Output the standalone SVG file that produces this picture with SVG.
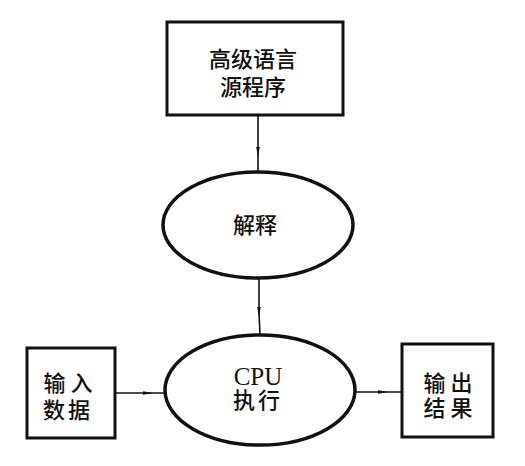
<svg xmlns="http://www.w3.org/2000/svg" width="525" height="466" viewBox="0 0 525 466">
<style>
.box{fill:#fff;stroke:#111;stroke-width:3}
.ell{fill:#fff;stroke:#111;stroke-width:3.5}
.t{font-family:"Noto Sans CJK SC","Noto Sans",sans-serif;font-size:22px;font-weight:500;fill:#111;text-anchor:middle}
.s{font-family:"Liberation Serif",serif;font-size:25px;fill:#111;text-anchor:middle}
.c{fill:none;stroke:#111;stroke-width:1.6;marker-mid:url(#ah)}
</style>
<defs>
<marker id="ah" markerWidth="10" markerHeight="6" refX="5" refY="3" orient="auto" markerUnits="userSpaceOnUse">
<path d="M0,1.2 L10,3 L0,4.8 Z" fill="#111"/>
</marker>
</defs>
<rect width="525" height="466" fill="#fff"/>
<g id="connectors">
<path class="c" d="M258,115 L258,152 L258,172"/>
<path class="c" d="M259,278 L259,312 L260,335"/>
<path class="c" d="M115,393 L148,393 L165,393"/>
<path class="c" d="M355,392 L383,392 L402,392"/>
</g>
<g id="source">
<rect class="box" x="167" y="22" width="176" height="93"/>
<text class="t" x="253" y="67">高级语言</text>
<text class="t" x="253" y="95">源程序</text>
</g>
<g id="interpret">
<ellipse class="ell" cx="258" cy="225" rx="95" ry="53"/>
<text class="t" x="255" y="233">解释</text>
</g>
<g id="cpu">
<ellipse class="ell" cx="260" cy="390" rx="95" ry="55"/>
<text class="s" x="258" y="385">CPU</text>
<text class="t" x="258" y="408" letter-spacing="3">执行</text>
</g>
<g id="input">
<rect class="box" x="27" y="348" width="88" height="90"/>
<text class="t" x="68" y="391">输 入</text>
<text class="t" x="68" y="418" letter-spacing="3">数据</text>
</g>
<g id="output">
<rect class="box" x="402" y="344" width="91" height="93"/>
<text class="t" x="448" y="391">输 出</text>
<text class="t" x="448" y="416">结 果</text>
</g>
</svg>
